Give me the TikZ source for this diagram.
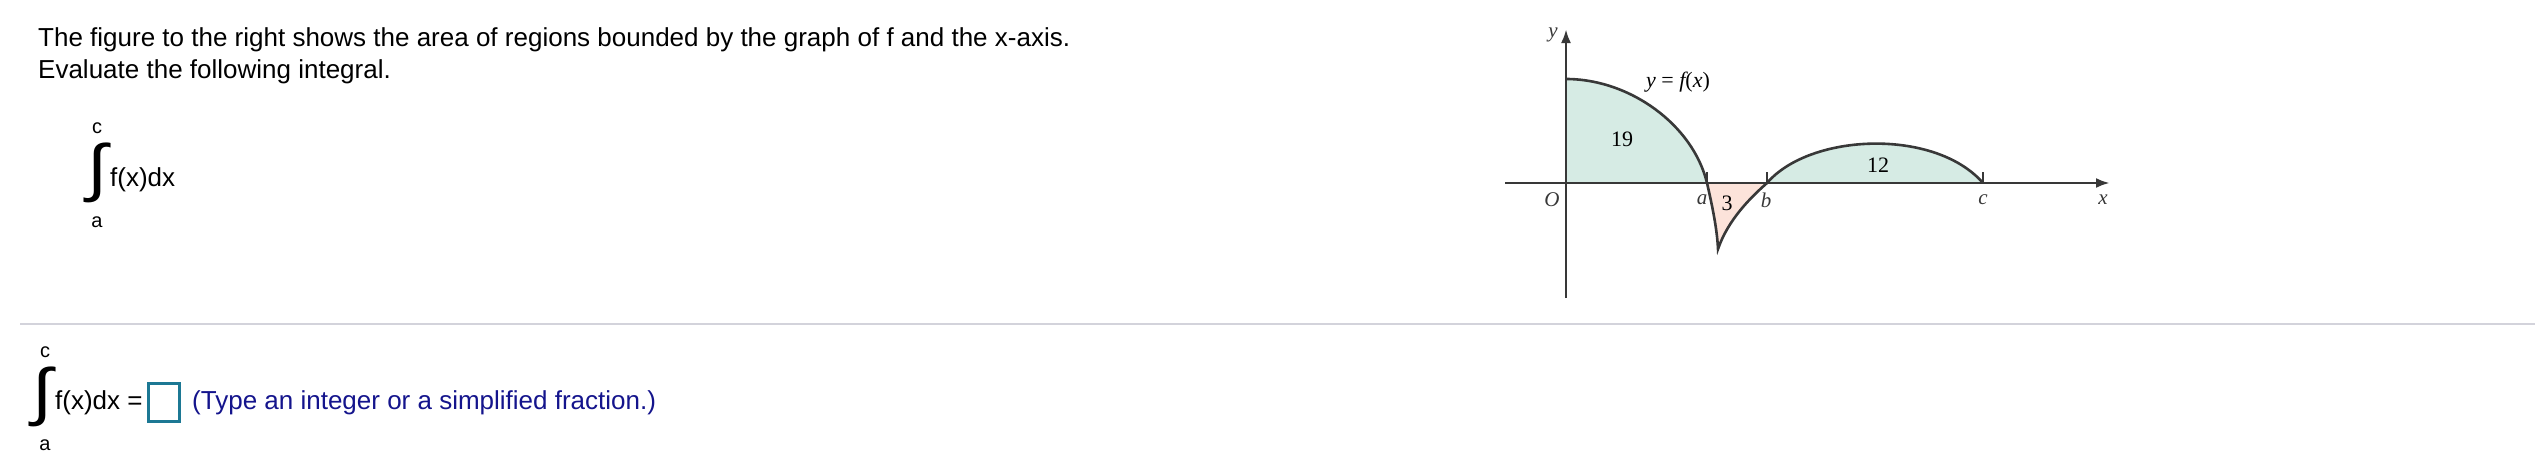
\documentclass[tikz,border=0pt]{standalone}
\usepackage{fontspec}
\usepackage{graphicx}
\setmainfont{Liberation Sans}
\newfontfamily\graphfont{Liberation Serif}
\usetikzlibrary{positioning,calc,arrows.meta}
\definecolor{areagreen}{HTML}{D6EBE4}
\definecolor{areapink}{HTML}{FCE3DA}
\definecolor{axisgray}{HTML}{383838}
\definecolor{rulegray}{HTML}{D3D3DB}
\definecolor{boxteal}{HTML}{1C7894}
\definecolor{hintblue}{HTML}{14148C}

\begin{document}
\begin{tikzpicture}[x=1pt,y=-1pt,
  body/.style={font=\fontsize{26}{28}\selectfont, inner sep=0pt},
  limit/.style={font=\fontsize{20}{20}\selectfont, inner sep=0pt},
  intsign/.style={inner sep=0pt},
  lbl/.style={font=\graphfont\itshape\fontsize{21}{21}\selectfont, inner sep=0pt, text=axisgray},
  area/.style={font=\graphfont\fontsize{22}{22}\selectfont, inner sep=0pt},
  axis/.style={draw=axisgray, line width=2.8pt, -{Latex[length=14pt,width=10pt]}},
  curve/.style={draw=axisgray, line width=2.6pt}]
\useasboundingbox (0,0) rectangle (2543,471);

% question text
\node[body, anchor=base west] (line1) at (38,46) {The figure to the right shows the area of regions bounded by the graph of f and the x-axis.};
\node[body, anchor=base west] (line2) at (38,78) {Evaluate the following integral.};
\node[limit] (upper1) at (97,128) {c};
\node[intsign] (int1) at (97.5,173) {\resizebox*{20pt}{60pt}{∫}};
\node[body, anchor=west] (fx1) at (110,180) {f(x)dx};
\node[limit] (lower1) at (97,222) {a};

% graph points
\coordinate (O) at (1566,183);
\coordinate (ytop) at (1566,29);
\coordinate (ybot) at (1566,298);
\coordinate (xleft) at (1505,183);
\coordinate (xright) at (2110,183);
\coordinate (f0) at (1566,79);
\coordinate (pa) at (1707,183);
\coordinate (cusp) at (1718,249);
\coordinate (pb) at (1767,183);
\coordinate (pc) at (1983,183);

% shaded regions
\fill[areagreen] (O) -- (f0) .. controls (1630,79) and (1693,125) .. (pa) -- cycle;
\fill[areapink] (pa) .. controls (1712,205) and (1717,228) .. (cusp)
  .. controls (1728,220) and (1750,198) .. (pb) -- cycle;
\fill[areagreen] (pb) .. controls (1810,133) and (1935,128) .. (pc) -- cycle;

% axes, ticks and graph of f
\draw[axis] (xleft) -- (xright);
\draw[axis] (ybot) -- (ytop);
\foreach \p in {pa,pb,pc}
  \draw[axisgray, line width=1.8pt] (\p) -- ++(0,-11);
\draw[curve] (f0) .. controls (1630,79) and (1693,125) .. (pa)
  .. controls (1712,205) and (1717,228) .. (cusp)
  .. controls (1728,220) and (1750,198) .. (pb)
  .. controls (1810,133) and (1935,128) .. (pc);

% labels
\node[lbl] (ylbl) at (1553,35) {y};
\node[area] (fxlbl) at (1678,82) {{\itshape y} = {\itshape f}({\itshape x})};
\node[area] (A1) at (1622,139) {19};
\node[area] (A2) at (1727,203) {3};
\node[area] (A3) at (1878,165) {12};
\node[lbl] (Olbl) at (1552,200) {O};
\node[lbl] (albl) at (1702,200) {a};
\node[lbl] (blbl) at (1766,200) {b};
\node[lbl] (clbl) at (1983,200) {c};
\node[lbl] (xlbl) at (2103,200) {x};

% answer line
\coordinate (ruleL) at (20,324);
\coordinate (ruleR) at (2535,324);
\draw[rulegray, line width=1.8pt] (ruleL) -- (ruleR);
\node[limit] (upper2) at (45,352) {c};
\node[intsign] (int2) at (43,397) {\resizebox*{20pt}{60pt}{∫}};
\node[body, anchor=west] (fx2) at (55,403) {f(x)dx =};
\node[draw=boxteal, line width=2.2pt, minimum width=31pt, minimum height=38pt, inner sep=0pt] (answer) at (164,402.5) {};
\node[body, text=hintblue, anchor=west] (hint) at (192,403) {(Type an integer or a simplified fraction.)};
\node[limit] (lower2) at (45,445) {a};
\end{tikzpicture}
\end{document}
